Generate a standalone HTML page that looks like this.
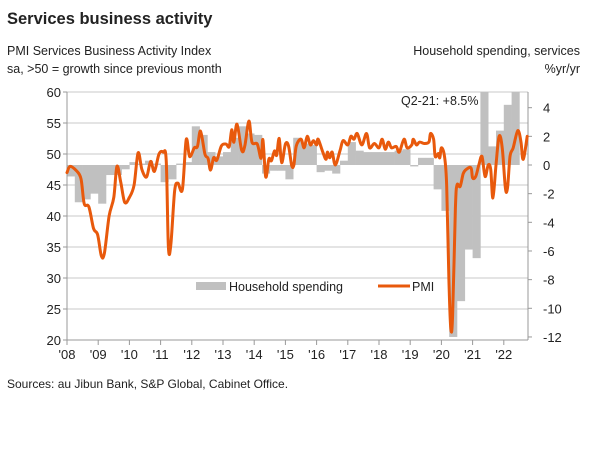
<!DOCTYPE html>
<html><head><meta charset="utf-8"><style>
body{margin:0;background:#fff;width:602px;height:444px;overflow:hidden;font-family:"Liberation Sans",sans-serif;}
svg text{font-family:"Liberation Sans",sans-serif;fill:#222;}
</style></head><body>
<svg id="c" width="602" height="444" viewBox="0 0 602 444" xmlns="http://www.w3.org/2000/svg">
<text x="7" y="24" font-size="16.5" font-weight="bold" fill="#111">Services business activity</text>
<text x="7" y="55" font-size="12.5">PMI Services Business Activity Index</text>
<text x="7" y="73" font-size="12.5">sa, &gt;50 = growth since previous month</text>
<text x="580" y="55" font-size="12.5" text-anchor="end">Household spending, services</text>
<text x="580" y="73" font-size="12.5" text-anchor="end">%yr/yr</text>
<text x="7" y="388" font-size="12">Sources: au Jibun Bank, S&amp;P Global, Cabinet Office.</text>
<g id="g"></g>
</svg>
<script>
var NS="http://www.w3.org/2000/svg",g=document.getElementById('g');
function el(t,a,txt){var e=document.createElementNS(NS,t);for(var k in a)e.setAttribute(k,a[k]);if(txt!==undefined)e.textContent=txt;g.appendChild(e);return e;}
var L=67,R=528,T=92,B=340;
function X(yr){return L+(yr-2008)*31.2;}
function YL(v){return B-(v-20)*6.2;}
var Z=165,RS=14.33;
function YR(r){return Z-r*RS;}
for(var v=25;v<=60;v+=5)el('line',{x1:L,x2:R,y1:YL(v),y2:YL(v),stroke:'#c8c8c8','stroke-width':1});
var hb=[-0.8,-2.6,-2.4,-2.0,-2.7,-0.7,-0.7,-0.3,0.2,0.1,0.3,0.1,-1.2,-1.0,0.1,0.2,2.7,2.1,0.9,0.6,0.9,1.9,2.7,2.2,2.1,-0.6,-0.4,-0.4,-1.0,1.9,1.5,1.4,-0.5,-0.4,-0.6,0.3,1.6,1.0,0.9,0.9,0.9,0.9,1.0,1.1,-0.1,0.5,0.5,-1.7,-3.2,-12,-9.5,-5.9,-6.5,8.5,1.3,2.4,4.2,8];
for(var i=0;i<hb.length;i++){var x0=X(2008+i*0.25),x1=X(2008+(i+1)*0.25);var y=Math.max(T,Math.min(B,YR(hb[i])));
el('rect',{x:x0,y:Math.min(y,Z),width:x1-x0+0.3,height:Math.abs(y-Z),fill:'#c0c0c0'});}
el('line',{x1:L,x2:L,y1:T,y2:B,stroke:'#999'});
el('line',{x1:R,x2:R,y1:T,y2:B,stroke:'#999'});
el('line',{x1:L,x2:R,y1:B,y2:B,stroke:'#999'});
for(var v=20;v<=60;v+=5){el('text',{x:L-6,y:YL(v)+5,'font-size':13,'text-anchor':'end'},v);el('line',{x1:L-4,x2:L,y1:YL(v),y2:YL(v),stroke:'#999'});}
for(var r=-12;r<=4;r+=2){el('text',{x:R+15,y:YR(r)+5,'font-size':13,'text-anchor':'start'},r<0?'-'+(-r):r);el('line',{x1:R,x2:R+4,y1:YR(r),y2:YR(r),stroke:'#999'});}
for(var y=2008;y<=2022;y++){el('line',{x1:X(y),x2:X(y),y1:B,y2:B+5,stroke:'#999'});el('text',{x:X(y),y:B+19,'font-size':13,'text-anchor':'middle'},"'"+String(y).slice(2));}
var pl=[[2008,47],[2008.1,48],[2008.3,47.3],[2008.45,46],[2008.55,42],[2008.7,41.5],[2008.85,38],[2008.98,37],[2009.1,33.6],[2009.2,34],[2009.35,40],[2009.5,43],[2009.6,48],[2009.72,45.5],[2009.85,42.2],[2010.0,43],[2010.15,45],[2010.28,50.2],[2010.4,47.5],[2010.55,46.3],[2010.68,48.8],[2010.8,47.2],[2010.95,50],[2011.08,50.3],[2011.18,49],[2011.25,35],[2011.33,35.5],[2011.45,44],[2011.55,45.3],[2011.7,44.3],[2011.82,52.3],[2011.93,49.6],[2012.08,51],[2012.18,51.2],[2012.28,53.7],[2012.42,50],[2012.52,49.3],[2012.6,47.4],[2012.7,49.4],[2012.8,49],[2012.95,51.3],[2013.1,51.6],[2013.2,51.2],[2013.28,53.9],[2013.35,51.9],[2013.45,54.8],[2013.6,50.6],[2013.7,51.3],[2013.83,55.3],[2013.93,51.9],[2014.1,51.6],[2014.22,49.3],[2014.28,52.3],[2014.37,46.3],[2014.47,49.2],[2014.55,48.9],[2014.65,50.5],[2014.72,49.8],[2014.8,52.5],[2014.88,48.6],[2015.0,51.6],[2015.1,51.3],[2015.2,48.2],[2015.27,48.2],[2015.35,51.3]];
var pr=[[2015.5,1.8],[2015.6,1.2],[2015.7,2.0],[2015.8,1.4],[2015.9,1.7],[2016.0,1.4],[2016.05,1.8],[2016.2,0.9],[2016.3,0.4],[2016.35,0.9],[2016.42,0.5],[2016.5,0.9],[2016.6,0.0],[2016.75,1.0],[2016.85,1.7],[2017.0,1.4],[2017.1,2.0],[2017.2,1.8],[2017.3,2.2],[2017.45,1.4],[2017.6,2.2],[2017.7,1.2],[2017.85,1.5],[2018.0,1.2],[2018.1,1.8],[2018.2,1.1],[2018.3,1.6],[2018.4,1.2],[2018.55,1.3],[2018.65,0.9],[2018.8,1.8],[2018.9,1.2],[2019.05,1.4],[2019.1,1.8],[2019.2,1.4],[2019.3,1.6],[2019.45,1.5],[2019.6,1.6],[2019.65,2.2],[2019.75,1.8],[2019.8,0.6],[2019.9,0.8],[2019.95,0.5],[2020.0,1.2],[2020.1,0.6],[2020.17,-1.5],[2020.24,-8],[2020.3,-11.4],[2020.36,-10.5],[2020.45,-3],[2020.5,-1.4],[2020.6,-1.5],[2020.7,-0.6],[2020.8,-0.3],[2020.95,-0.2],[2021.0,-0.9],[2021.1,-0.8],[2021.2,0.0],[2021.3,0.6],[2021.4,-0.8],[2021.5,0],[2021.58,-0.3],[2021.65,-2.3],[2021.75,0],[2021.85,2.0],[2021.95,1.2],[2022.05,-1.6],[2022.12,-1.6],[2022.2,0.6],[2022.3,1.2],[2022.45,2.4],[2022.55,1.6],[2022.6,0.5],[2022.65,0.6],[2022.75,2.0]];
var pts=pl.map(function(p){return [X(p[0]),YL(p[1])];}).concat(pr.map(function(p){return [X(p[0]),YR(p[1])];}));
function cl(v){return Math.min(B-3,Math.max(T,v));}
var d='M'+pts[0][0]+','+pts[0][1];
for(var i=0;i<pts.length-1;i++){var p0=pts[Math.max(0,i-1)],p1=pts[i],p2=pts[i+1],p3=pts[Math.min(pts.length-1,i+2)];
var c1=[p1[0]+(p2[0]-p0[0])/6,cl(p1[1]+(p2[1]-p0[1])/6)],c2=[p2[0]-(p3[0]-p1[0])/6,cl(p2[1]-(p3[1]-p1[1])/6)];
d+=' C'+c1[0].toFixed(1)+','+c1[1].toFixed(1)+' '+c2[0].toFixed(1)+','+c2[1].toFixed(1)+' '+p2[0].toFixed(1)+','+p2[1].toFixed(1);}
el('path',{d:d,fill:'none',stroke:'#e8590c','stroke-width':3,'stroke-linejoin':'round','stroke-linecap':'round'});
el('rect',{x:196,y:282,width:30,height:8,fill:'#c0c0c0'});
el('text',{x:229,y:291,'font-size':12.5},'Household spending');
el('line',{x1:378,x2:410,y1:286,y2:286,stroke:'#e8590c','stroke-width':3});
el('text',{x:412,y:291,'font-size':12.5},'PMI');
el('text',{x:401,y:105,'font-size':12.5},'Q2-21: +8.5%');
</script>
</body></html>
